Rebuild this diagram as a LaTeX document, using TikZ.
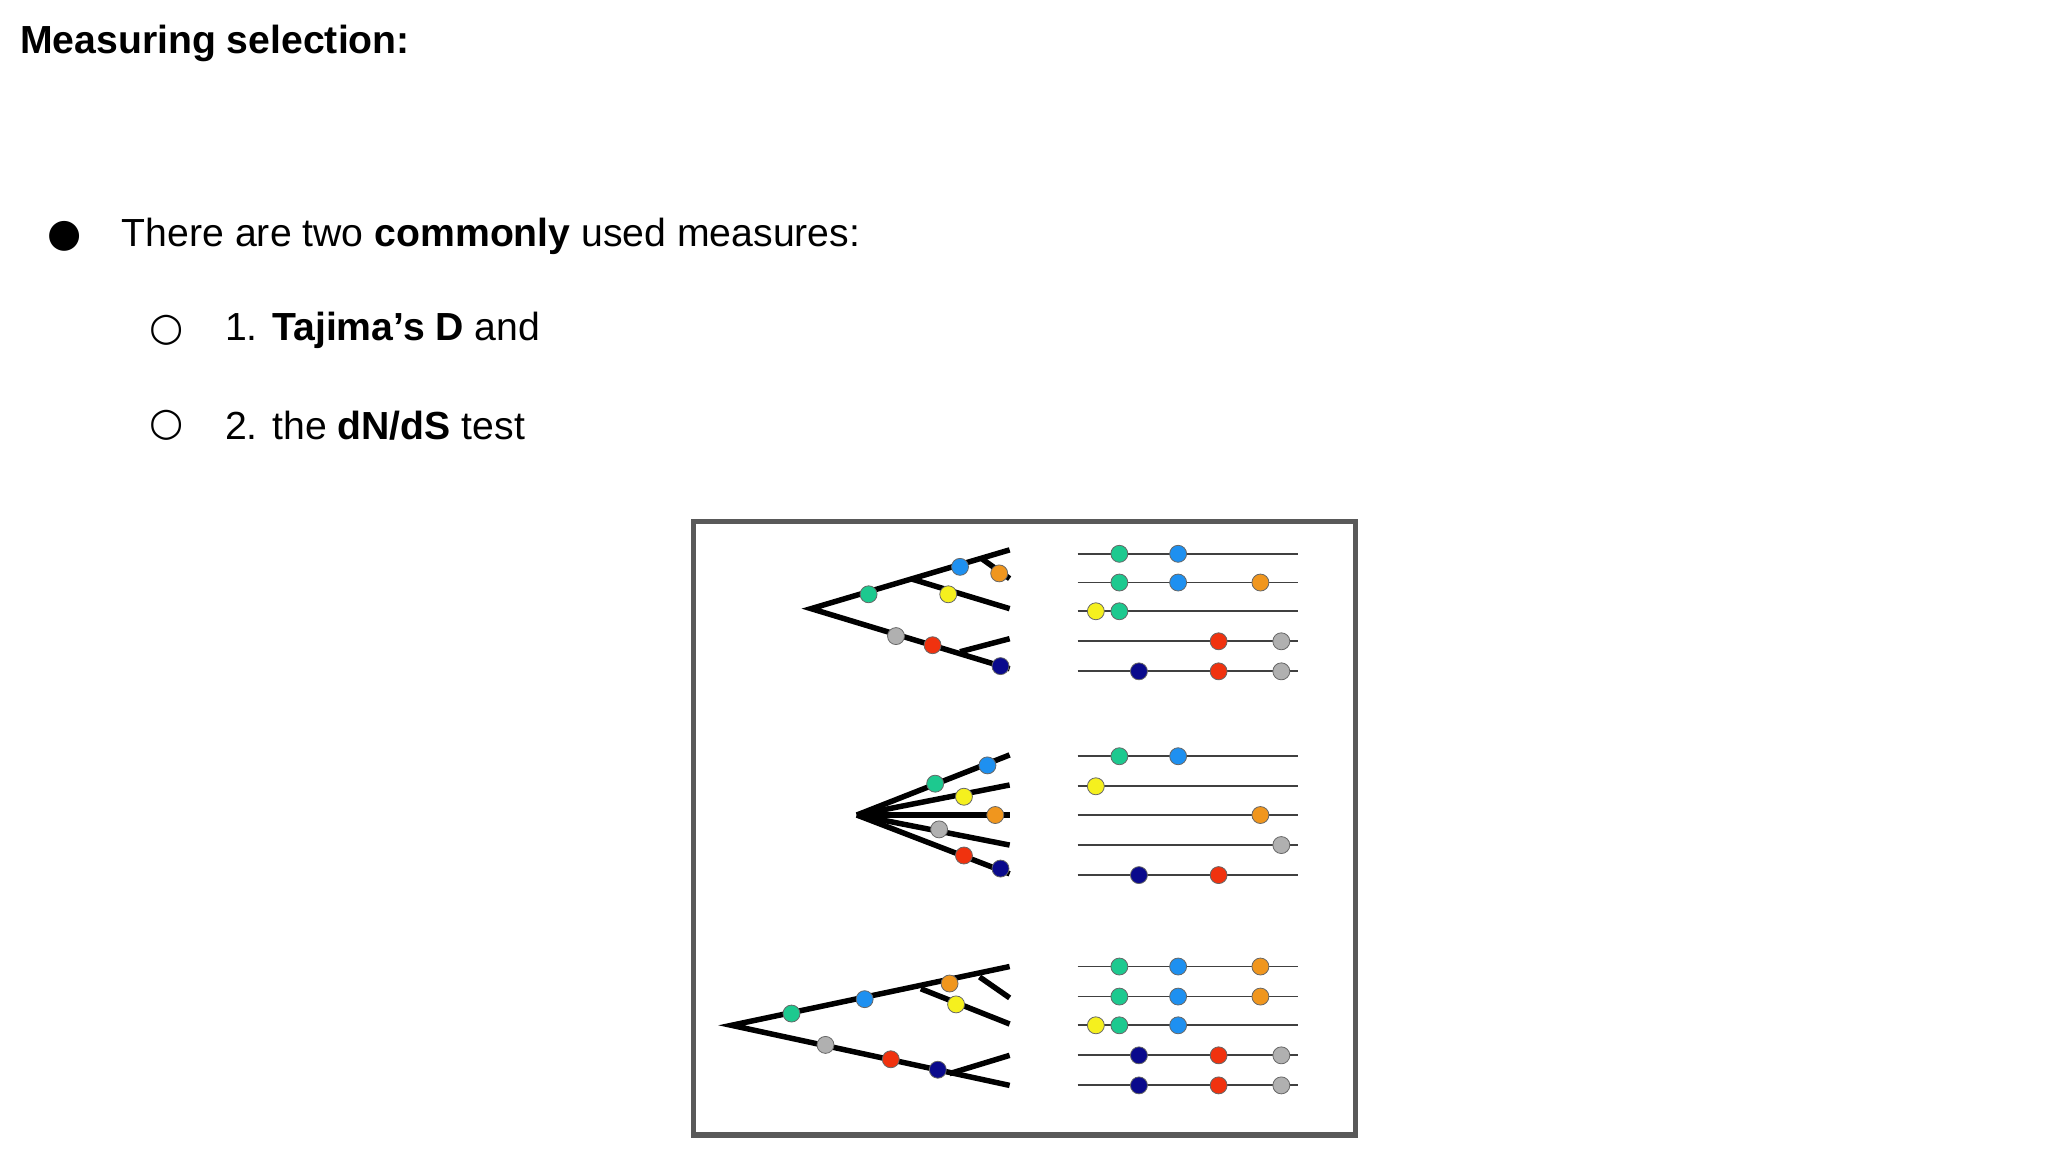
\documentclass[tikz,border=0pt]{standalone}
\usepackage{fontspec}
\setmainfont{Liberation Sans}
\newfontfamily\dejavu{DejaVu Sans}
\definecolor{cg}{HTML}{1DC98F}
\definecolor{cb}{HTML}{1E90F0}
\definecolor{co}{HTML}{F0961E}
\definecolor{cy}{HTML}{F5F01E}
\definecolor{cr}{HTML}{F0320F}
\definecolor{cn}{HTML}{0A0A8C}
\definecolor{cgr}{HTML}{B0B0B0}
\tikzset{
  br/.style={line width=2.1pt,black},
  seq/.style={line width=0.7pt,black!75},
  mut/.style={circle,draw=black!60,line width=0.3pt,minimum size=6.5pt,inner sep=0pt},
  txt/.style={anchor=west,inner sep=0pt,font=\fontsize{15}{18}\selectfont}
}
\begin{document}
\begin{tikzpicture}[x=0.5pt,y=-0.5pt]
\useasboundingbox (0,0) rectangle (1568,882);
\node[txt,font=\fontsize{15}{18}\selectfont\bfseries] (title) at (15,33) {Measuring selection:};
\node[txt] (b1) at (36,181) {\dejavu ●};
\node[txt] (t1) at (93,181) {There are two \textbf{commonly} used measures:};
\node[txt] (b2) at (114,253) {\dejavu ○};
\node[txt] (t2) at (172,253) {1. \textbf{Tajima’s D} and};
\node[txt] (b3) at (114,326) {\dejavu ○};
\node[txt] (t3) at (172,326) {2. the \textbf{dN/dS} test};
\draw[line width=2pt,black!65] (531,399) rectangle (1038,869);
% tree 1
\draw[br] (773,421) -- (621,466) -- (773,512);
\draw[br] (697,443) -- (773,466);
\draw[br] (752,428) -- (773,443);
\draw[br] (735,499) -- (773,489);
\foreach \x/\y/\c in {665/455/cg,735/434/cb,765/439/co,726/455/cy,686/487/cgr,714/494/cr,766/510/cn}
  \node[mut,fill=\c] at (\x,\y) {};
% tree 2
\foreach \y in {578,601,624,647,669} \draw[br] (656,624) -- (773,\y);
\foreach \x/\y/\c in {716/600/cg,756/586/cb,738/610/cy,762/624/co,719/635/cgr,738/655/cr,766/665/cn}
  \node[mut,fill=\c] at (\x,\y) {};
% tree 3
\draw[br] (773,740) -- (560,785) -- (773,831);
\draw[br] (705,757) -- (773,784);
\draw[br] (750,748) -- (773,764);
\draw[br] (727,822) -- (773,808);
\foreach \x/\y/\c in {606/776/cg,662/765/cb,727/753/co,732/769/cy,632/800/cgr,682/811/cr,718/819/cn}
  \node[mut,fill=\c] at (\x,\y) {};
% sequences
\foreach \y in {424,446,468,491,514,579,602,624,647,670,740,763,785,808,831}
  \draw[seq] (825,\y) -- (994,\y);
\foreach \x/\y/\c in {
 857/424/cg,902/424/cb,
 857/446/cg,902/446/cb,965/446/co,
 839/468/cy,857/468/cg,
 933/491/cr,981/491/cgr,
 872/514/cn,933/514/cr,981/514/cgr,
 857/579/cg,902/579/cb,
 839/602/cy,
 965/624/co,
 981/647/cgr,
 872/670/cn,933/670/cr,
 857/740/cg,902/740/cb,965/740/co,
 857/763/cg,902/763/cb,965/763/co,
 839/785/cy,857/785/cg,902/785/cb,
 872/808/cn,933/808/cr,981/808/cgr,
 872/831/cn,933/831/cr,981/831/cgr}
  \node[mut,fill=\c] at (\x,\y) {};
\end{tikzpicture}
\end{document}
